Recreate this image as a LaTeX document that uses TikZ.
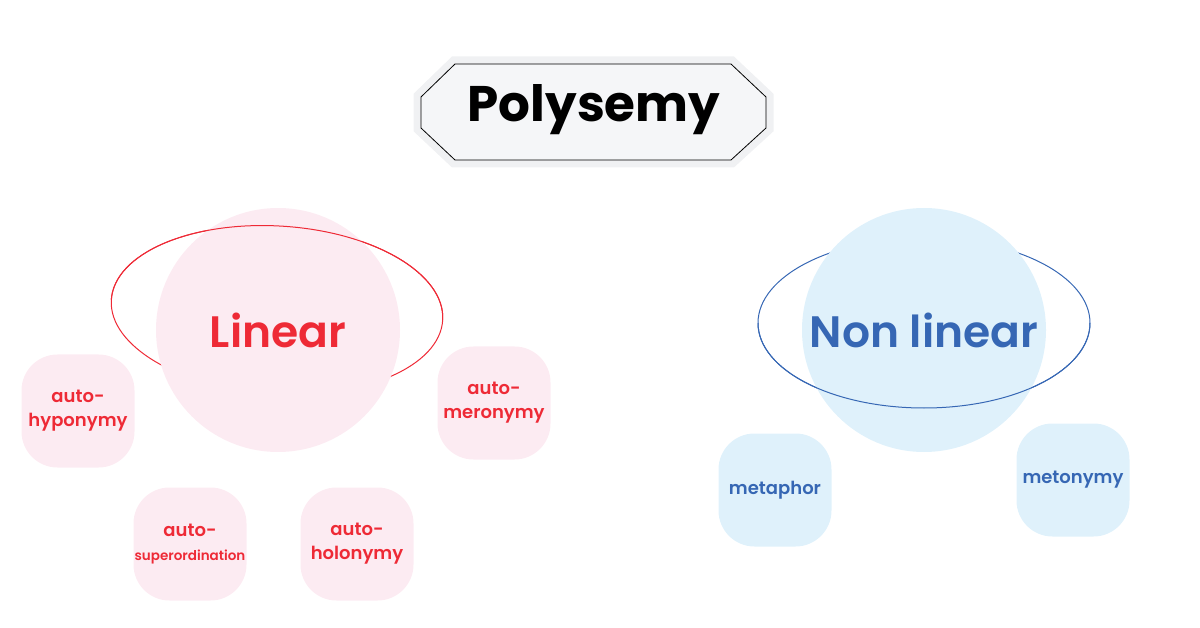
\documentclass[tikz,border=0pt]{standalone}
\usepackage{fontspec}
\setmainfont{Poppins}[BoldFont={Poppins SemiBold}]
\newfontfamily\polyfont{Poppins Bold}
\usetikzlibrary{positioning}
\definecolor{linred}{HTML}{EE2A36}
\definecolor{linpink}{HTML}{FCEBF2}
\definecolor{nlblue}{HTML}{3667B4}
\definecolor{nlsky}{HTML}{DFF1FB}
\definecolor{polyfill}{HTML}{F5F6F8}
\definecolor{polyrim}{HTML}{F0F1F3}

\begin{document}
\begin{tikzpicture}[x=1pt,y=-1pt,
    ball/.style={circle,fill=#1,minimum size=244pt,inner sep=0pt,
        font=\bfseries\fontsize{44}{54}\selectfont},
    tile/.style={rounded corners=36pt,fill=#1,minimum size=113pt,inner sep=0pt,
        align=center,font=\bfseries\fontsize{18}{24}\selectfont}]
    \useasboundingbox (0,0) rectangle (1200,628);
    % title
    \draw[black, line width=0.8pt, fill=polyfill, preaction={draw=polyrim, line width=15pt}]
        (421,97) -- (455,64) -- (731,64) -- (766,97) -- (766,128) -- (731,160) -- (455,160) -- (421,128) -- cycle;
    \node[font=\polyfont\fontsize{50}{60}\selectfont] (poly) at (594,110) {Polysemy};
    % linear
    \begin{scope}[shift={(277,310)}, rotate=-3.5]
        \draw[linred, line width=1pt] (0,0) ellipse [x radius=166pt, y radius=84pt];
    \end{scope}
    \node[ball=linpink, text=linred] (lin) at (278,330) {Linear};
    \begin{scope}[shift={(277,310)}, rotate=-3.5]
        \draw[linred, line width=1pt] (0:166pt) arc[start angle=0, end angle=180, x radius=166pt, y radius=84pt];
    \end{scope}
    \foreach \name/\p/\t in {hypo/{78,411}/{auto-\\hyponymy}, mero/{494,403}/{auto-\\meronymy},
        super/{190,544}/{auto-\\{\fontsize{13.5}{20}\selectfont superordination}}, holo/{357,544}/{auto-\\holonymy}}
        \node[tile=linpink, text=linred] (\name) at (\p) {\t};
    % non linear
    \draw[nlblue, line width=1pt] (924,323) ellipse [x radius=166pt, y radius=85pt];
    \node[ball=nlsky, text=nlblue] (nonlin) at (924,330) {Non linear};
    \draw[nlblue, line width=1pt] (924,323) ++(-166pt,0) arc[start angle=180, end angle=360, x radius=166pt, y radius=85pt];
    \foreach \name/\p/\t in {meta/{775,490}/metaphor, meto/{1073,480}/metonymy}
        \node[tile=nlsky, text=nlblue] (\name) at (\p) {\t};
\end{tikzpicture}
\end{document}
